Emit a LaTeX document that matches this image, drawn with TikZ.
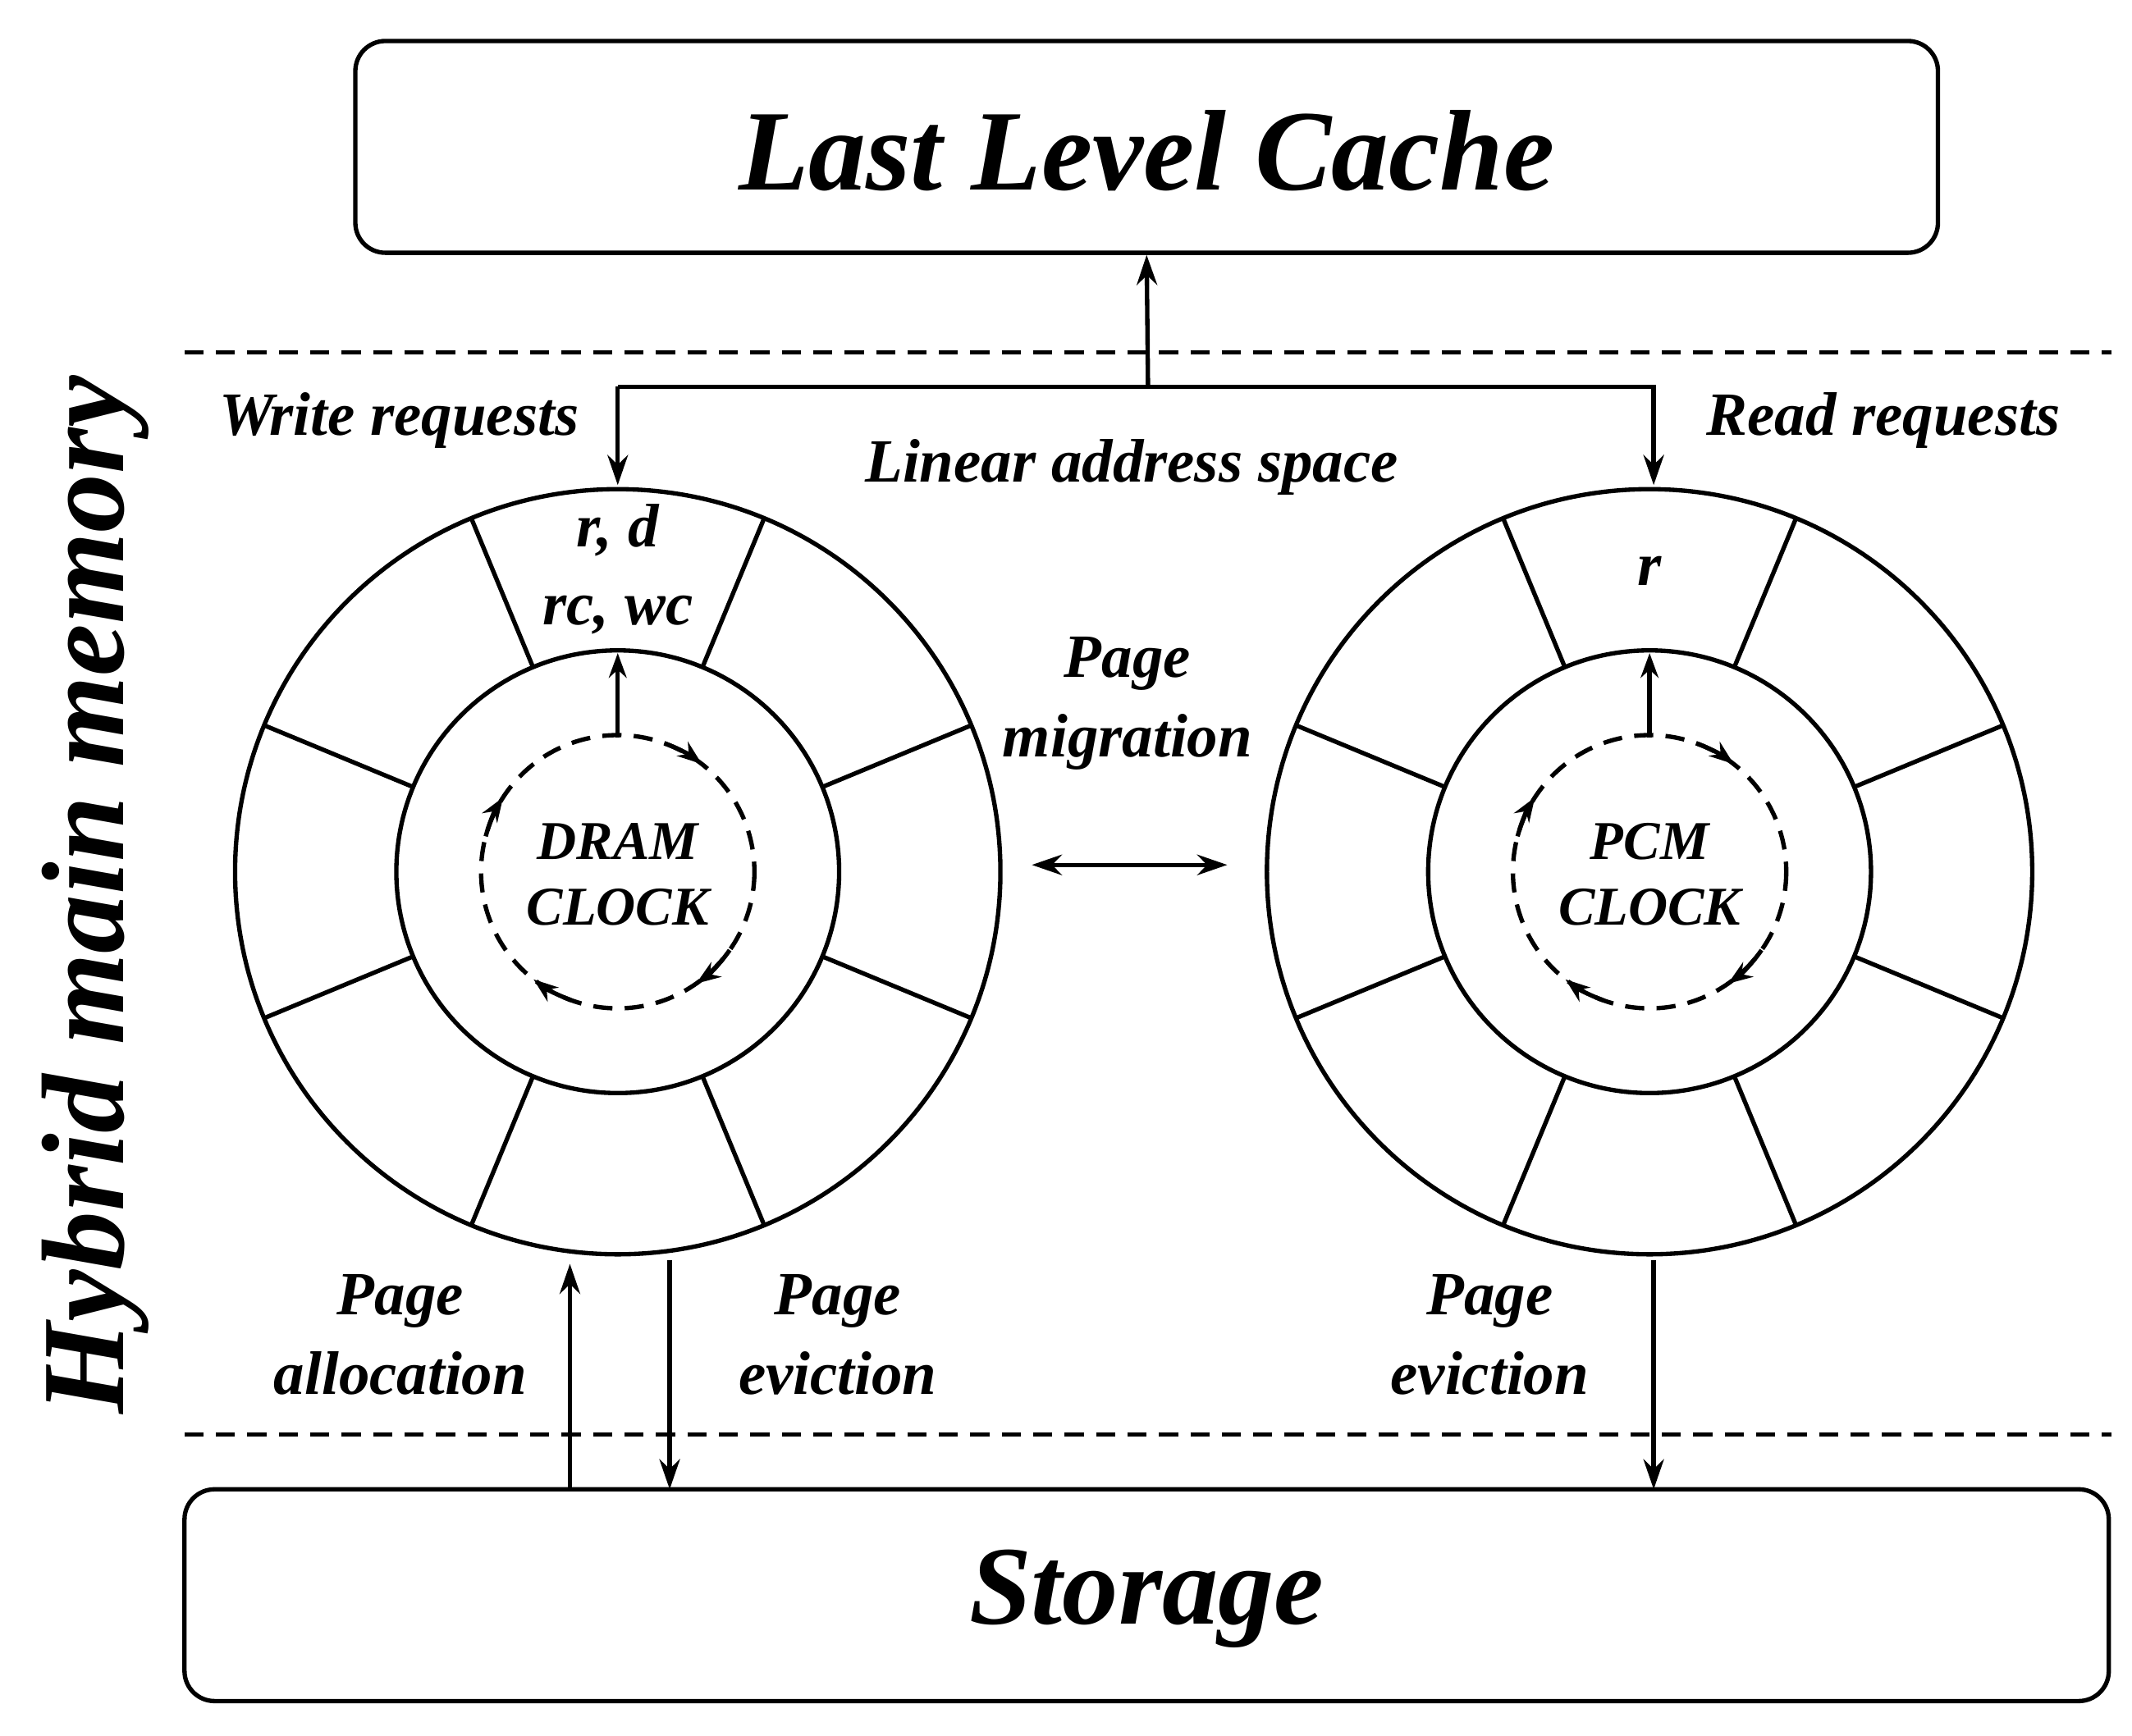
\documentclass[tikz,border=0pt]{standalone}
\usepackage{fontspec}
\setmainfont{Liberation Serif}
\usetikzlibrary{arrows.meta}
\begin{document}
\begin{tikzpicture}[x=1pt,y=-1pt,line width=3.2pt,
  box/.style={draw,rounded corners=22pt},
  lbl/.style={font=\fontsize{45}{58}\selectfont\bfseries\itshape,align=center},
  arr/.style={-{Stealth[length=22pt,width=15pt]}},
  sarr/.style={-{Stealth[length=18pt,width=13pt]}},
  dsh/.style={dash pattern=on 14pt off 9pt}]
\useasboundingbox (0,0) rectangle (1560,1270);
\node[box,minimum width=1158pt,minimum height=155pt] (llc) at (839,107.5) {};
\node[font=\fontsize{84}{90}\selectfont\bfseries\itshape] at (839,110) {Last Level Cache};
\node[box,minimum width=1408pt,minimum height=155pt] (st) at (839,1167.5) {};
\node[font=\fontsize{82}{90}\selectfont\bfseries\itshape] at (839,1170) {Storage};
\draw[dsh] (135,258) -- (1545,258);
\draw[dsh] (135,1050) -- (1545,1050);
\node[rotate=90,font=\fontsize{86}{90}\selectfont\bfseries\itshape] at (70,655) {Hybrid main memory};
\coordinate (j) at (840,283);
\coordinate (wl) at (452,283);
\coordinate (rl) at (1210,283);
\draw[arr] (j) -- (llc.south);
\draw[arr] (wl) -- (rl|-wl) -- (1210,355);
\draw[arr] (wl) -- (452,355);
\node[lbl] at (292,308) {Write requests};
\node[lbl] at (1378,308) {Read requests};
\node[lbl] at (828,342) {Linear address space};
\foreach \cx/\nm in {452/DRAM,1207/PCM}{
  \begin{scope}[shift={(\cx,638)}]
  \draw (0,0) circle (280);
  \draw (0,0) circle (162);
  \foreach \a in {22.5,67.5,...,337.5}
    \draw (\a:162) -- (\a:280);
  \draw[dsh] (0,0) circle (100);
  \draw[sarr] (0,-98) -- (0,-160);
  \node[lbl,font=\fontsize{40}{48}\selectfont\bfseries\itshape] at (0,2) {\nm\\CLOCK};
  \draw[sarr] (-70:100) arc (-70:-52:100);
  \draw[sarr] (35:100) arc (35:55:100);
  \draw[sarr] (110:100) arc (110:128:100);
  \draw[sarr] (-165:100) arc (-165:-147:100);
  \end{scope}
}
\node[lbl] at (452,388) {r, d};
\node[lbl] at (452,450) {rc, wc};
\node[lbl] at (1207,418) {r};
\node[lbl] at (825,515) {Page\\migration};
\coordinate (m1) at (755,633);
\coordinate (m2) at (898,633);
\draw[{Stealth[length=22pt,width=15pt]}-{Stealth[length=22pt,width=15pt]}] (m1) -- (m2);
\coordinate (a1) at (417,1090);
\coordinate (a2) at (417,925);
\draw[arr] (a1) -- (a2);
\coordinate (e1) at (490,922);
\coordinate (e2) at (490,1090);
\draw[arr] (e1) -- (e2);
\coordinate (p1) at (1210,922);
\coordinate (p2) at (1210,1090);
\draw[arr] (p1) -- (p2);
\node[lbl] at (293,977) {Page\\allocation};
\node[lbl] at (613,977) {Page\\eviction};
\node[lbl] at (1090,977) {Page\\eviction};
\end{tikzpicture}
\end{document}
